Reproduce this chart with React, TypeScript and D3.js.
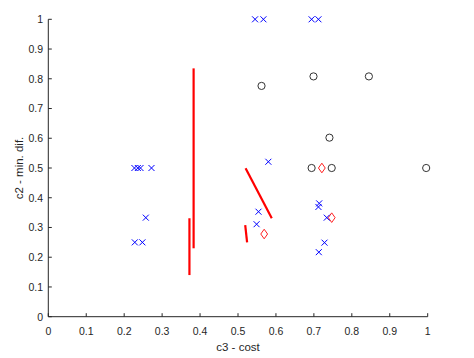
import React from "react";
import * as d3 from "d3";

const W = 474, H = 358;
const xTicks = [0, 0.1, 0.2, 0.3, 0.4, 0.5, 0.6, 0.7, 0.8, 0.9, 1];
const yTicks = [0, 0.1, 0.2, 0.3, 0.4, 0.5, 0.6, 0.7, 0.8, 0.9, 1];

// blue crosses [c3, c2]
const crossX = [0.545, 0.567, 0.694, 0.712, 0.227, 0.236, 0.243, 0.272, 0.257, 0.228, 0.248, 0.58, 0.554, 0.549, 0.714, 0.712, 0.734, 0.728, 0.713];
const crossY = [1, 1, 1, 1, 0.5, 0.5, 0.5, 0.5, 0.333, 0.25, 0.25, 0.521, 0.353, 0.311, 0.381, 0.369, 0.333, 0.249, 0.217];

// black circles
const circX = [0.562, 0.699, 0.845, 0.741, 0.694, 0.747, 0.996];
const circY = [0.776, 0.808, 0.808, 0.602, 0.5, 0.5, 0.5];

// red diamonds
const diaX = [0.721, 0.747, 0.569];
const diaY = [0.5, 0.333, 0.278];

// red segments [x1, y1, x2, y2]
const segX1 = [0.383, 0.372, 0.52, 0.519];
const segY1 = [0.835, 0.331, 0.499, 0.308];
const segX2 = [0.383, 0.372, 0.589, 0.524];
const segY2 = [0.23, 0.14, 0.331, 0.25];

export default function App() {
  const x = d3.scaleLinear().domain([0, 1]).range([48.3, 427.7]);
  const y = d3.scaleLinear().domain([0, 1]).range([316.7, 19.3]);
  const axisColor = "#262626";
  const font = "'Liberation Sans', Arial, sans-serif";
  return (
    <svg width={W} height={H} style={{ position: "absolute", left: 0, top: 0, background: "#fff" }}>
      <rect x={0} y={0} width={W} height={H} fill="#fff" />
      {/* axes */}
      <line x1={x(0)} x2={x(1)} y1={y(0)} y2={y(0)} stroke={axisColor} strokeWidth={1} />
      <line x1={x(0)} x2={x(0)} y1={y(0)} y2={y(1)} stroke={axisColor} strokeWidth={1} />
      {xTicks.map((t) => (
        <g key={"xt" + t}>
          <line x1={x(t)} x2={x(t)} y1={y(0)} y2={y(0) - 3.5} stroke={axisColor} />
          <text x={x(t)} y={335} textAnchor="middle" fontFamily={font} fontSize={10.5} fill={axisColor}>
            {String(t)}
          </text>
        </g>
      ))}
      {yTicks.map((t) => (
        <g key={"yt" + t}>
          <line x1={x(0)} x2={x(0) + 3.5} y1={y(t)} y2={y(t)} stroke={axisColor} />
          <text x={43} y={y(t) + 3.8} textAnchor="end" fontFamily={font} fontSize={10.5} fill={axisColor}>
            {String(t)}
          </text>
        </g>
      ))}
      <text x={(x(0) + x(1)) / 2} y={351} textAnchor="middle" fontFamily={font} fontSize={11.5} fill={axisColor}>
        c3 - cost
      </text>
      <text
        transform={`translate(23,${(y(0) + y(1)) / 2}) rotate(-90)`}
        textAnchor="middle"
        fontFamily={font}
        fontSize={11.5}
        fill={axisColor}
      >
        c2 - min. dif.
      </text>
      {/* red segments */}
      {segX1.map((v, i) => (
        <line
          key={"s" + i}
          x1={x(v)}
          y1={y(segY1[i])}
          x2={x(segX2[i])}
          y2={y(segY2[i])}
          stroke="#ff0000"
          strokeWidth={2.2}
        />
      ))}
      {/* circles */}
      {circX.map((v, i) => (
        <circle key={"c" + i} cx={x(v)} cy={y(circY[i])} r={3.6} fill="none" stroke="#333" strokeWidth={1} />
      ))}
      {/* diamonds */}
      {diaX.map((v, i) => {
        const cx = x(v), cy = y(diaY[i]);
        return (
          <path
            key={"d" + i}
            d={`M${cx},${cy - 4.8}L${cx + 3.4},${cy}L${cx},${cy + 4.8}L${cx - 3.4},${cy}Z`}
            fill="none"
            stroke="#ff2020"
            strokeWidth={1}
          />
        );
      })}
      {/* crosses */}
      {crossX.map((v, i) => {
        const cx = x(v), cy = y(crossY[i]);
        const s = 3;
        return (
          <path
            key={"x" + i}
            d={`M${cx - s},${cy - s}L${cx + s},${cy + s}M${cx - s},${cy + s}L${cx + s},${cy - s}`}
            stroke="#0000ff"
            strokeWidth={1}
            fill="none"
          />
        );
      })}
    </svg>
  );
}
